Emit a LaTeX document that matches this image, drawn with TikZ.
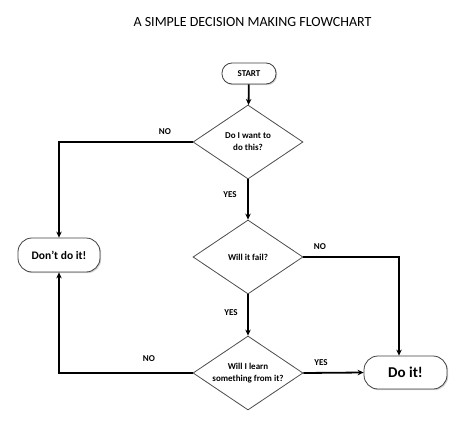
\documentclass[tikz,border=0pt]{standalone}
\usepackage{fontspec}
\setmainfont{Carlito}
\usetikzlibrary{shapes.geometric,arrows.meta,shadows}
\begin{document}
\begin{tikzpicture}[x=1pt,y=-1pt,
  term/.style={draw=black!75, line width=0.8pt, fill=white,
    drop shadow={opacity=0.35, shadow xshift=1.2pt, shadow yshift=-1.2pt}, inner sep=0pt},
  dec/.style={diamond, draw=black!70, line width=0.8pt, fill=white,
    minimum width=110pt, minimum height=74pt, inner sep=0pt, aspect=1.5,
    font=\bfseries\fontsize{9}{12}\selectfont, align=center},
  flow/.style={line width=1.8pt, -{Stealth[length=6pt,width=5.5pt]}},
  lbl/.style={font=\bfseries\fontsize{9}{10}\selectfont}]
\useasboundingbox (0,0) rectangle (474,428);
\node[font=\fontsize{14}{16}\selectfont] (title) at (252.5,22) {A SIMPLE DECISION MAKING FLOWCHART};
\node[term, minimum width=54pt, minimum height=21pt, rounded corners=10pt,
  font=\bfseries\fontsize{9}{10}\selectfont] (start) at (249,73.5) {START};
\node[dec] (d1) at (248,142) {Do I want to\\do this?};
\node[dec] (d2) at (248,257) {Will it fail?};
\node[dec] (d3) at (248,373) {Will I learn\\something from it?};
\node[term, minimum width=82pt, minimum height=34pt, rounded corners=14pt,
  font=\bfseries\fontsize{11.5}{13}\selectfont] (dont) at (59,255) {Don’t do it!};
\node[term, minimum width=83pt, minimum height=33pt, rounded corners=14pt,
  font=\bfseries\fontsize{15}{17}\selectfont] (doit) at (405.5,372.5) {Do it!};
\draw[flow] (start) -- (d1);
\draw[flow] (d1) -- (d2);
\draw[flow] (d2) -- (d3);
\draw[flow] (d1.west) -| (dont.north);
\draw[flow] (d3.west) -| (dont.south);
\draw[flow] (d2.east) -| ([xshift=-6.5pt]doit.north);
\draw[flow] (d3.east) -- (doit.west);
\node[lbl] (l1) at (165,132) {NO};
\node[lbl] (l2) at (230,195) {YES};
\node[lbl] (l3) at (320,247) {NO};
\node[lbl] (l4) at (231,313) {YES};
\node[lbl] (l5) at (149,359) {NO};
\node[lbl] (l6) at (321,363) {YES};
\end{tikzpicture}
\end{document}
